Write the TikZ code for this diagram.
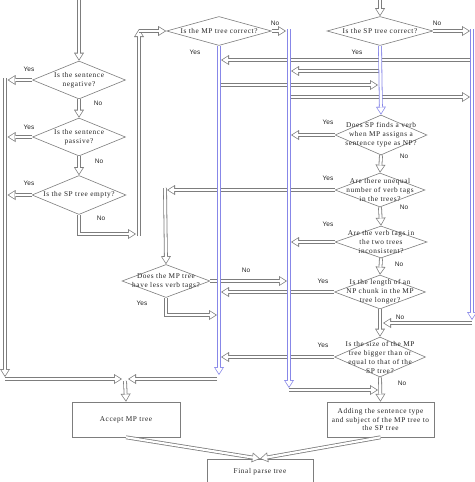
\documentclass[tikz,border=0pt]{standalone}
\usepackage{fontspec}
\setmainfont{Liberation Serif}
\newfontfamily\lblfont{Liberation Sans}
\newfontfamily\dfont[LetterSpace=8]{Liberation Serif}
\usetikzlibrary{shapes.geometric,arrows.meta}
\definecolor{lg}{RGB}{125,125,125}
\definecolor{lb}{RGB}{135,135,232}
\definecolor{tx}{RGB}{35,35,35}
\tikzset{
  dec/.style 2 args={shape=diamond, draw=lg, line width=0.6pt, minimum width=#1, minimum height=#2, inner sep=0pt},
  dtxt/.style={font=\dfont\fontsize{7.3}{9}\selectfont, text=tx, align=center, inner sep=0pt},
  boxn/.style={draw=lg, line width=0.6pt, font=\dfont\fontsize{7.3}{8.7}\selectfont, text=tx, align=center, inner sep=0pt},
  lab/.style={font=\lblfont\fontsize{6.5}{7}\selectfont, text=tx, inner sep=0pt},
  cona/.style={line width=2.2pt, draw=white, line join=miter, shorten >=1.4pt,
    -{Triangle[length=5.8pt,width=7.4pt,line width=0pt,fill=white]},
    preaction={draw=#1, line width=3.8pt, shorten >=0pt, -{Triangle[length=8pt,width=10pt,line width=0pt,fill=#1]}}},
  ga/.style={cona=lg},
  ba/.style={cona=lb}
}
\begin{document}
\begin{tikzpicture}[x=1pt,y=-1pt]
\useasboundingbox (0,0) rectangle (474,482);
% decision shapes
\node[dec={93pt}{38pt}] (d1) at (79,80) {};
\node[dec={93pt}{38pt}] (d2) at (79,137) {};
\node[dec={94pt}{39pt}] (d3) at (79,195) {};
\node[dec={105pt}{29pt}] (dmp) at (219,31) {};
\node[dec={106pt}{29pt}] (dsp) at (380,31) {};
\node[dec={92pt}{40pt}] (d4) at (381,135) {};
\node[dec={90pt}{34pt}] (d5) at (380,190) {};
\node[dec={92pt}{32pt}] (d6) at (381,242) {};
\node[dec={91pt}{34pt}] (d7) at (380,292) {};
\node[dec={91pt}{40pt}] (d8) at (380,357) {};
\node[dec={88pt}{33pt}] (dl) at (166,281) {};
% boxes
\node[boxn, minimum width=108pt, minimum height=35pt] (acc) at (126,419.5) {Accept MP tree};
\node[boxn, minimum width=107pt, minimum height=35pt] (add) at (380.5,419.5) {Adding the sentence type\\and subject of the MP tree to\\the SP tree};
\node[boxn, minimum width=106pt, minimum height=25pt] (fin) at (260,471.5) {Final parse tree};
% coordinates
\coordinate (t1) at (79,0);
\coordinate (t2) at (380,0);
% gray connectors
\draw[ga] (t1) -- (d1.north);
\draw[ga] (d1.south) -- (d2.north);
\draw[ga] (d2.south) -- (d3.north);
\draw[ga] (d1.west) -- (7.5,80);
\draw[ga] (d2.west) -- (7.5,137);
\draw[ga] (d3.west) -- (7.5,195);
\draw[ga] (5,78) -- (5,377);
\draw[ga] (5,379) -- (122,379);
\draw[ga] (217,379) -- (128,379);
\draw[ga] (125,381) -- (acc.north);
\draw[ga] (d3.south) -- (79,234) -- (136,234);
\draw[ga] (139,236) -- (139,29);
\draw[ga] (139,31) -- (dmp.west);
\draw[ga] (acc.south) -- (fin.north);
\draw[ga] (add.south) -- (fin.north);
\draw[ga] (dmp.east) -- (286,31);
\draw[ga] (289,390) -- (378,390);
\draw[ga] (t2) -- (dsp.north);
\draw[ga] (dsp.east) -- (470,31);
\draw[ga] (472,323) -- (383,323);
\draw[ga] (472,60) -- (221,60);
\draw[ga] (380,71) -- (291,71);
\draw[ga] (219,85) -- (378,85);
\draw[ga] (289,97) -- (470,97);
\draw[ga] (d4.west) -- (291,135);
\draw[ga] (d4.south) -- (d5.north);
\draw[ga] (d5.west) -- (167,190);
\draw[ga] (165,188) -- (dl.north);
\draw[ga] (d5.south) -- (d6.north);
\draw[ga] (d6.west) -- (291,242);
\draw[ga] (d6.south) -- (d7.north);
\draw[ga] (d7.west) -- (221,292);
\draw[ga] (d7.south) -- (d8.north);
\draw[ga] (d8.west) -- (221,357);
\draw[ga] (d8.south) -- (add.north);
\draw[ga] (dl.east) -- (287,281);
\draw[ga] (dl.south) -- (166,315) -- (217,315);
% blue connectors
\draw[ba] (dmp.south) -- (219,375);
\draw[ba] (289,29) -- (289,388);
\draw[ba] (dsp.south) -- (d4.north);
\draw[ba] (472,29) -- (472,320);
% diamond texts
\node[dtxt] (d1t) at (d1) {Is the sentence\\negative?};
\node[dtxt] (d2t) at (d2) {Is the sentence\\passive?};
\node[dtxt] (d3t) at (d3) {Is the SP tree empty?};
\node[dtxt] (dmpt) at (dmp) {Is the MP tree correct?};
\node[dtxt] (dspt) at (dsp) {Is the SP tree correct?};
\node[dtxt] (d4t) at (d4) {Does SP finds a verb\\when MP assigns a\\sentence type as NP?};
\node[dtxt] (d5t) at (d5) {Are there unequal\\number of verb tags\\in the trees?};
\node[dtxt] (d6t) at (d6) {Are the verb tags in\\the two trees\\inconsistent?};
\node[dtxt] (d7t) at (d7) {Is the length of an\\NP chunk in the MP\\tree longer?};
\node[dtxt] (d8t) at (d8) {Is the size of the MP\\tree bigger than or\\equal to that of the\\SP tree?};
\node[dtxt] (dlt) at (dl) {Does the MP tree\\have less verb tags?};
% yes / no labels
\node[lab] (y1) at (29,69) {Yes};
\node[lab] (n1) at (98,103) {No};
\node[lab] (y2) at (29,127) {Yes};
\node[lab] (n2) at (99,161) {No};
\node[lab] (y3) at (29,183) {Yes};
\node[lab] (n3) at (101,218) {No};
\node[lab] (nmp) at (275,23) {No};
\node[lab] (ymp) at (195,52) {Yes};
\node[lab] (nsp) at (437,23) {No};
\node[lab] (ysp) at (357,52) {Yes};
\node[lab] (y4) at (328,122) {Yes};
\node[lab] (n4) at (404,156) {No};
\node[lab] (y5) at (328,178) {Yes};
\node[lab] (n5) at (404,207) {No};
\node[lab] (y6) at (328,224) {Yes};
\node[lab] (n6) at (399,264) {No};
\node[lab] (y7) at (323,281) {Yes};
\node[lab] (n7) at (400,317) {No};
\node[lab] (y8) at (323,345) {Yes};
\node[lab] (n8) at (402,383) {No};
\node[lab] (nl) at (246,270) {No};
\node[lab] (yl) at (142,303) {Yes};
\end{tikzpicture}
\end{document}
